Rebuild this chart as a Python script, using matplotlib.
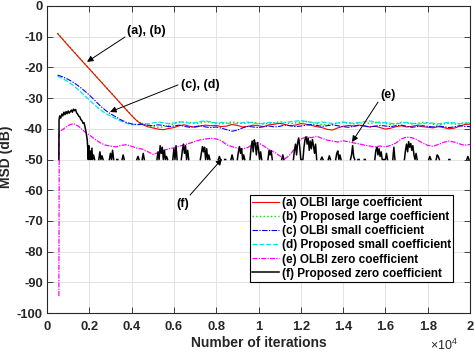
import numpy as np
import matplotlib
matplotlib.use('Agg')
import matplotlib.pyplot as plt
from matplotlib.ticker import FuncFormatter

N = np.nan

# common iteration grid (500 .. 20000, step 250)
iters = list(range(500, 20001, 250))

a_msd = [-9.0, -10.9, -12.9, -14.8, -16.7, -18.6, -20.5, -22.4,
         -24.3, -26.2, -28.1, -30.0, -31.9, -33.8, -35.7, -37.4,
         -38.6, -39.3, -39.7, -40.1, -40.3, -39.9, -39.6, -39.0,
         -38.7, -39.2, -39.5, -39.1, -38.8, -39.0, -38.9, -39.3,
         -39.1, -38.6, -38.9, -39.4, -39.2, -38.8, -39.0, -39.3,
         -38.7, -38.5, -38.2, -38.6, -39.0, -38.8, -38.3, -38.5,
         -38.9, -39.3, -39.6, -40.2, -40.4, -39.7, -39.2, -38.9,
         -39.1, -38.8, -39.0, -39.4, -39.1, -39.6, -40.1, -39.8,
         -39.3, -39.0, -39.4, -39.2, -38.9, -39.3, -39.5, -39.7,
         -39.3, -39.6, -40.0, -39.8, -39.2, -38.6, -38.5]

b_msd = [-8.8, -10.8, -12.7, -14.7, -16.6, -18.5, -20.4, -22.3,
         -24.2, -26.1, -28.0, -29.9, -31.8, -33.7, -35.6, -37.3,
         -38.4, -39.0, -39.3, -39.5, -39.4, -38.9, -38.3, -37.9,
         -37.8, -38.0, -38.3, -38.1, -37.7, -37.9, -38.2, -38.4,
         -38.1, -37.8, -38.0, -38.3, -38.1, -37.9, -38.2, -38.5,
         -38.2, -38.0, -37.7, -37.9, -38.3, -38.1, -37.8, -37.6,
         -37.9, -38.3, -38.6, -38.8, -38.5, -38.1, -37.9, -38.2,
         -38.4, -38.1, -38.0, -38.3, -38.0, -37.8, -38.2, -38.6,
         -38.3, -37.9, -38.1, -38.4, -38.2, -37.9, -38.1, -38.5,
         -38.8, -38.4, -38.2, -38.5, -38.3, -38.0, -38.2]

c_msd = [-22.5, -23.1, -23.9, -24.9, -26.1, -27.5, -29.0, -30.7,
         -32.4, -33.9, -35.1, -36.1, -37.1, -37.9, -38.4, -38.7,
         -38.5, -38.8, -39.0, -38.7, -38.9, -39.3, -39.1, -38.8,
         -39.2, -39.5, -39.3, -39.0, -39.4, -39.6, -39.4, -39.8,
         -40.3, -40.8, -40.4, -39.7, -39.2, -39.4, -39.6, -39.3,
         -39.1, -39.4, -39.2, -38.8, -39.0, -39.3, -39.1, -38.8,
         -38.6, -38.9, -39.2, -39.0, -38.7, -39.0, -39.3, -39.5,
         -39.2, -38.9, -39.1, -39.4, -39.2, -38.9, -39.1, -39.3,
         -39.0, -38.8, -39.2, -39.5, -39.3, -39.0, -39.2, -39.4,
         -39.1, -39.3, -39.6, -39.4, -39.0, -39.2, -39.3]

d_msd = [-22.8, -23.7, -24.7, -25.9, -27.4, -29.0, -30.6, -32.2,
         -33.7, -34.9, -35.8, -36.7, -37.5, -38.2, -38.7, -38.5,
         -38.2, -38.4, -38.1, -37.8, -38.0, -38.3, -38.1, -37.7,
         -37.9, -38.2, -38.0, -37.6, -37.4, -37.8, -38.1, -37.9,
         -38.2, -38.5, -38.3, -38.0, -37.8, -38.1, -38.4, -38.2,
         -37.9, -38.1, -38.3, -38.0, -37.7, -37.5, -37.3, -37.6,
         -37.9, -38.1, -37.8, -38.0, -38.3, -38.1, -37.8, -38.0,
         -38.2, -38.0, -37.7, -37.4, -37.8, -38.1, -37.9, -38.2,
         -38.4, -38.1, -37.9, -38.2, -38.5, -38.3, -38.0, -38.2,
         -38.4, -38.1, -37.9, -38.1, -38.4, -38.2, -38.0]

# OLBI zero coefficient (starts with a vertical jump)
e_iter = [560, 580] + list(range(750, 20001, 250))
e_msd = [-94.5, -41.0,
         -40.2, -38.9, -38.3, -39.2, -40.8, -42.0, -43.3,
         -44.5, -45.3, -45.6, -45.9, -45.4, -45.2, -45.7, -46.3,
         -46.6, -47.4, -48.3, -47.8, -47.1, -46.5, -46.2, -45.7,
         -45.2, -44.7, -44.1, -43.6, -43.3, -43.1, -43.3, -43.9,
         -45.2, -45.8, -46.3, -46.5, -46.1, -44.9, -44.6, -45.6,
         -46.8, -47.6, -48.8, -49.8, -48.4, -46.0, -43.4, -42.6,
         -42.9, -42.4, -43.1, -43.7, -44.0, -44.3, -43.9, -44.2,
         -44.6, -44.9, -45.3, -45.6, -45.9, -45.6, -45.9, -45.4,
         -44.6, -43.3, -42.7, -42.9, -43.6, -44.6, -45.4, -45.7,
         -45.1, -44.4, -44.0, -44.3, -44.9, -45.4, -45.1]

# Proposed zero coefficient (bursts above the -50 dB floor, gaps = NaN)
f_iter = [560, 570, 600, 650, 700, 750, 800, 850, 900, 950, 1000, 1050, 1100, 1150,
          1200, 1250, 1300, 1350, 1400, 1450, 1500, 1550, 1600, 1650, 1700, 1750,
          1800, 1850, 1900, 1925, 1950, 1975, 2000, 2050, 2075, 2125, 2150, 2200, 2250, 2260,
          2450, 2500, 2550, 2600, 2650, 2660,
          2950, 3000, 3050, 3100, 3150, 3160,
          3300, 3350, 3360,
          3550, 3600, 3650, 3660,
          4250, 4300, 4350, 4360,
          4500, 4550, 4600, 4610,
          5200, 5250, 5300, 5350, 5400, 5450, 5500, 5550, 5600, 5650, 5700, 5710,
          5950, 6000, 6050, 6100, 6150, 6160,
          6350, 6400, 6450, 6500, 6550, 6600, 6650, 6700, 6710,
          7250, 7300, 7350, 7400, 7450, 7500, 7550, 7600, 7650, 7700, 7710,
          8100, 8150, 8200, 8210,
          8400, 8450, 8460,
          8700, 8750, 8800, 8810,
          9000, 9050, 9100, 9150, 9200, 9250, 9300, 9350, 9360,
          9600, 9650, 9700, 9750, 9800, 9850, 9900, 9950, 10000, 10050, 10100, 10150, 10160,
          10450, 10500, 10550, 10600, 10650, 10660,
          11100, 11150, 11200, 11210,
          11650, 11700, 11750, 11800, 11850, 11900, 11950, 12000, 12100, 12150, 12200, 12250,
          12300, 12350, 12400, 12450, 12500, 12550, 12600, 12650, 12700, 12750, 12760,
          12950, 13000, 13050, 13060,
          13300, 13350, 13400, 13410,
          13650, 13700, 13750, 13800, 13850, 13900, 13910,
          14350, 14400, 14450, 14500, 14550, 14560,
          14700, 14760, 14770,
          15000, 15050, 15060,
          15500, 15550, 15600, 15650, 15700, 15750, 15800, 15850, 16000, 16050, 16100, 16110,
          16350, 16400, 16450, 16460,
          16900, 16950, 17000, 17050, 17100, 17150, 17200, 17250, 17300, 17350, 17400, 17450, 17500, 17510,
          18050, 18100, 18150, 18160,
          18400, 18450, 18500, 18550, 18560,
          19000, 19050, 19060,
          19850, 19900, 19950]
f_msd = [-50, -37.0, -35.8, -36.5, -35.2, -35.8, -34.6, -35.4, -34.4, -35.1, -34.2, -34.9, -34.4, -33.9,
         -34.6, -33.6, -34.1, -33.7, -34.8, -35.2, -35.9, -36.1, -37.0, -37.3, -38.2, -38.0,
         -39.5, -41.2, -43.5, -46.0, -50, -45.5, -50, -47.2, -50, -46.3, -50, -48.5, -50, N,
         -50, -47.5, -50, -48.8, -50, N,
         -50, -48.0, -50, -47.0, -50, N,
         -50, -50, N,
         -50, -48.5, -50, N,
         -50, -49.0, -50, N,
         -50, -48.0, -50, N,
         -50, -47.5, -50, -45.5, -48.0, -46.0, -50, -47.0, -50, -49.0, -50, N,
         -50, -46.5, -50, -45.5, -50, N,
         -50, -47.0, -45.0, -48.0, -45.5, -50, -47.0, -50, N,
         -50, -48.0, -45.8, -47.5, -46.0, -50, -46.5, -50, -48.5, -50, N,
         -50, -49.0, -50, N,
         -50, -50, N,
         -50, -48.5, -50, N,
         -50, -47.5, -45.8, -48.0, -46.5, -50, -48.5, -50, N,
         -50, -46.0, -44.0, -47.5, -43.6, -45.0, -48.5, -44.5, -46.5, -50, -47.5, -50, N,
         -50, -47.0, -48.5, -47.2, -50, N,
         -50, -48.5, -50, N,
         -50, -47.0, -45.0, -48.5, -44.5, -43.0, -46.0, -50, -50, -46.0, -43.5, -42.6,
         -45.0, -43.0, -47.0, -44.0, -46.5, -43.5, -45.5, -48.0, -45.0, -50, N,
         -50, -49.2, -50, N,
         -50, -48.8, -50, N,
         -50, -48.0, -47.2, -50, -48.5, -50, N,
         -50, -48.5, -45.5, -49.0, -50, N,
         -50, -50, N,
         -50, -50, N,
         -50, -47.0, -46.0, -48.5, -46.5, -49.0, -47.5, -50, -50, -48.0, -50, N,
         -50, -46.0, -50, N,
         -50, -47.0, -45.0, -47.5, -44.2, -46.0, -44.8, -47.0, -45.5, -48.5, -50, -48.0, -50, N,
         -50, -49.0, -50, N,
         -50, -48.5, -49.0, -50, N,
         -50, -50, N,
         -50, -49.0, -50]

labels = ['(a) OLBI large coefficient', '(b) Proposed large coefficient',
          '(c) OLBI small coefficient', '(d) Proposed small coefficient',
          '(e) OLBI zero coefficient', '(f) Proposed zero coefficient']

x_ticks = list(range(0, 20001, 2000))
y_ticks = list(range(-100, 1, 10))

plt.rcParams['font.family'] = ['Liberation Sans', 'DejaVu Sans']
plt.rcParams['font.weight'] = 'bold'
plt.rcParams['axes.labelweight'] = 'bold'
plt.rcParams['mathtext.default'] = 'regular'
plt.rcParams['axes.unicode_minus'] = False

fig = plt.figure(figsize=(4.74, 3.53), dpi=100)
ax = fig.add_axes([47 / 474, 40 / 353, 423 / 474, 307 / 353])

ax.plot(iters, a_msd, color='#ff0000', lw=0.8, ls='-', label=labels[0], zorder=3)
ax.plot(iters, b_msd, color='#00dd00', lw=1.0, ls=':', label=labels[1], zorder=2)
ax.plot(iters, c_msd, color='#0000ff', lw=0.8, ls=(0, (5, 1.2, 1.2, 1.2)), label=labels[2], zorder=3)
ax.plot(iters, d_msd, color='#00e5e5', lw=0.9, ls=(0, (4, 1.5)), label=labels[3], zorder=2)
ax.plot(e_iter, e_msd, color='#ff00ff', lw=0.9, ls=(0, (4, 1, 1, 1)), label=labels[4], zorder=3)
ax.plot(f_iter, f_msd, color='black', lw=1.1, ls='-', label=labels[5], zorder=4)

ax.set_xlim(0, 20000)
ax.set_ylim(-100, 0)
ax.set_xticks(x_ticks)
ax.set_yticks(y_ticks)
ax.xaxis.set_major_formatter(FuncFormatter(lambda v, p: f'{v / 1e4:g}'))
ax.tick_params(direction='in', top=True, right=True, length=4, width=0.6,
               labelsize=9.4, colors='#262626')
ax.tick_params(axis='x', pad=6)
ax.tick_params(axis='y', pad=3)
ax.grid(True, color='#e3e3e3', lw=0.7)
ax.set_axisbelow(True)
for s in ax.spines.values():
    s.set_color('#262626')
    s.set_linewidth(0.8)

ax.set_xlabel('Number of iterations', fontsize=10, color='#262626')
ax.set_ylabel('MSD (dB)', fontsize=10, color='#262626')
ax.xaxis.set_label_coords(0.5, -0.075)
ax.xaxis.label.set_va('top')
ax.yaxis.set_label_coords(-0.08, 0.51)

ax.text(0.905, -0.105, r'$\times\mathregular{10^{4}}$', transform=ax.transAxes,
        ha='left', va='center', fontsize=9, color='#262626', fontweight='normal')

leg = ax.legend(loc='lower right', bbox_to_anchor=(0.96, 0.101), frameon=True,
                fancybox=False, edgecolor='black', framealpha=1, fontsize=8.5,
                handlelength=2.3, handletextpad=0.2, borderpad=0.2,
                labelspacing=0.18, borderaxespad=0)
leg.get_frame().set_linewidth(0.8)

arrow = dict(arrowstyle='-|>', color='black', lw=0.7, mutation_scale=9,
             shrinkA=0, shrinkB=0)
ax.annotate('', xy=(1891, -18.2), xytext=(3688, -10.1), arrowprops=arrow)
ax.text(4681, -8.1, '(a), (b)', ha='center', va='center', fontsize=9)
ax.annotate('', xy=(2979, -34.5), xytext=(6194, -25.7), arrowprops=arrow)
ax.text(7234, -25.7, '(c), (d)', ha='center', va='center', fontsize=9)
ax.annotate('', xy=(14421, -44.3), xytext=(15650, -31.3), arrowprops=arrow)
ax.text(16123, -29.0, '(e)', ha='center', va='center', fontsize=9)
ax.annotate('', xy=(8274, -49.8), xytext=(6761, -61.6), arrowprops=arrow)
ax.text(6430, -64.5, '(f)', ha='center', va='center', fontsize=9)

fig.savefig('out.png', dpi=100)
